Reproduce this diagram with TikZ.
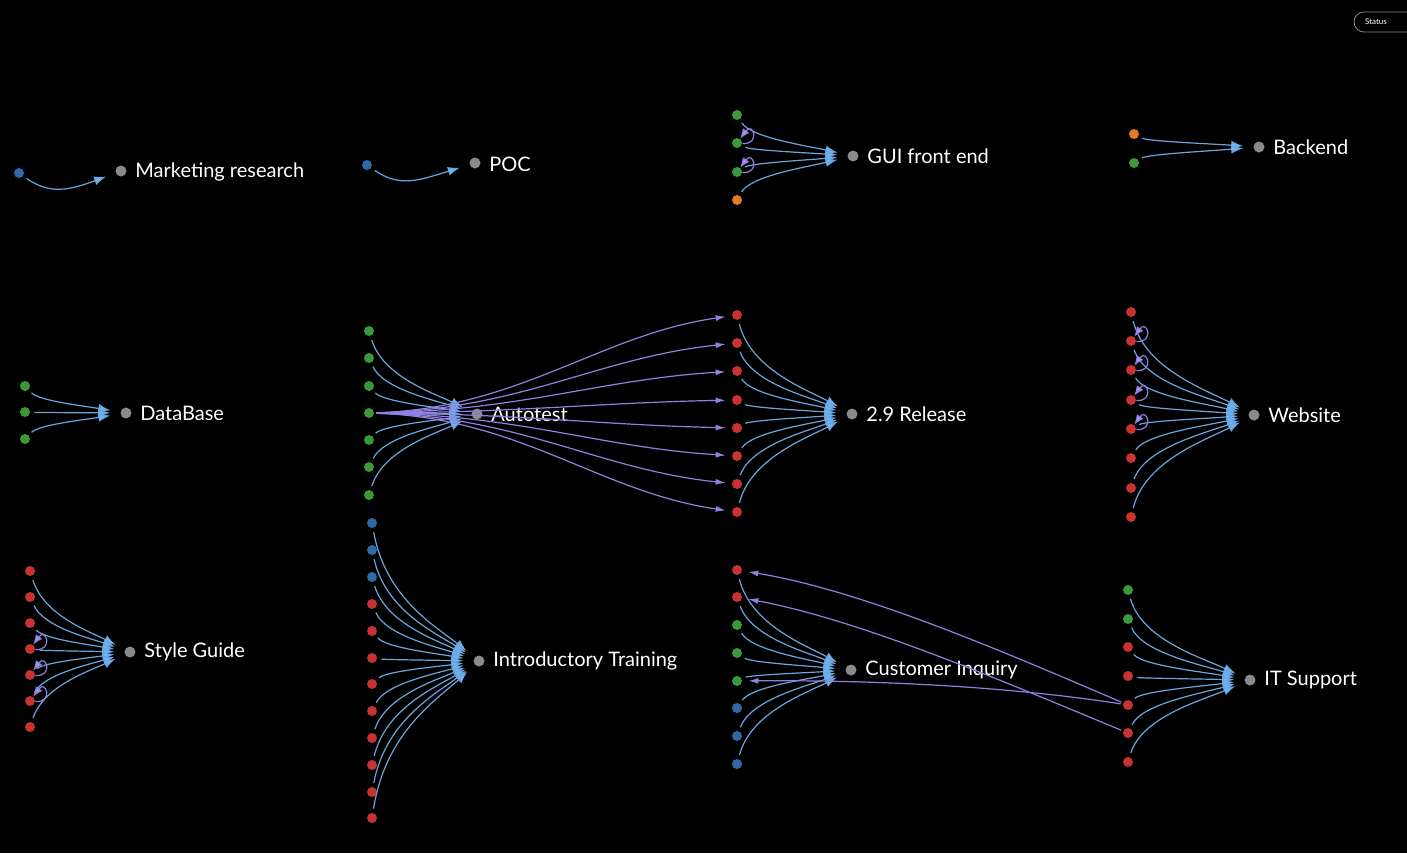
\documentclass[tikz,border=0pt]{standalone}
\usepackage{fontspec}
\setmainfont{Lato}
\usetikzlibrary{arrows.meta}
\definecolor{cg}{HTML}{3A9A3A}
\definecolor{cr}{HTML}{C83232}
\definecolor{cb}{HTML}{2F6AA8}
\definecolor{co}{HTML}{E07B2A}
\definecolor{ch}{HTML}{8A8A8A}
\definecolor{eb}{HTML}{6AA6DC}
\definecolor{tb}{HTML}{6AB4F5}
\definecolor{ep}{HTML}{9080E0}
\tikzset{
 dot/.style={circle,inner sep=0pt,minimum size=5pt},
 hub/.style={circle,fill=ch,inner sep=0pt,minimum size=5.5pt},
 lbl/.style={text=white,font=\fontsize{10}{12}\selectfont,inner sep=0pt},
 edge/.style={draw=eb,line width=0.6pt,-{Latex[length=6pt,width=4.5pt,fill=tb]},shorten >=5pt,shorten <=2pt},
 pedge/.style={draw=ep,line width=0.6pt,-{Latex[length=5pt,width=3pt,fill=ep]},shorten >=3pt,shorten <=1pt},
 loope/.style={draw=ep,line width=0.6pt,-{Latex[length=5pt,width=4pt,fill=ep!80!white]}},
}
\newcommand\grp[6]{%
 \node[hub] (#1-h) at (#4,#5) {};
 \node[lbl,anchor=west] (#1-l) at (#4+14,#5) {#6};
 \foreach \yy/\cc [count=\i] in {#3} {
   \node[dot,fill=\cc] (#1-\i) at (#2,\yy) {};
   \pgfmathsetmacro\ay{\yy+0.55*(#5-\yy)}
   \pgfmathsetmacro\bx{#4-0.4*(#4-#2)}
   \pgfmathsetmacro\by{#5+0.25*(\yy-#5)}
   \draw[edge] (#1-\i) .. controls (#2+14,\ay) and (\bx,\by) .. (#1-h);
 }}
\newcommand\lp[3]{\draw[loope] (#1) .. controls (#2+24,#3+2) and (#2+16,#3-22) .. (#1);}
\begin{document}
\begin{tikzpicture}[x=0.5pt,y=-0.5pt]
\fill[black] (0,0) rectangle (1407,853);
\useasboundingbox (0,0) rectangle (1407,853);
% status
\node[draw=ch,rounded corners=5pt,minimum width=34pt,minimum height=10pt,text=white,font=\fontsize{4}{5}\selectfont] (st) at (1388,22) {\hspace*{-12pt}Status};
% Marketing research
\node[hub] (mr-h) at (121,171) {};
\node[lbl,anchor=west] (mr-l) at (135,172) {Marketing research};
\node[dot,fill=cb] (mr-1) at (19,173) {};
\draw[edge] (mr-1) .. controls (50,195) and (70,190) .. (mr-h);
% POC
\node[hub] (poc-h) at (475,163) {};
\node[lbl,anchor=west] (poc-l) at (489,164) {POC};
\node[dot,fill=cb] (poc-1) at (367,165) {};
\draw[edge] (poc-1) .. controls (400,188) and (420,180) .. (poc-h);
% groups
\grp{gui}{737}{115/cg,143/cg,172/cg,200/co}{853}{156}{GUI front end}
\lp{gui-2}{737}{143}\lp{gui-3}{737}{172}
\grp{be}{1134}{134/co,163/cg}{1259}{147}{Backend}
\grp{db}{25}{386/cg,412/cg,439/cg}{126}{413}{DataBase}
\grp{at}{369}{331/cg,358/cg,386/cg,413/cg,440/cg,467/cg,495/cg}{477}{414}{Autotest}
\grp{rel}{737}{315/cr,343/cr,371/cr,400/cr,428/cr,456/cr,484/cr,512/cr}{852}{414}{2.9 Release}
\grp{web}{1131}{312/cr,341/cr,370/cr,400/cr,429/cr,458/cr,488/cr,517/cr}{1254}{415}{Website}
\lp{web-2}{1131}{341}\lp{web-3}{1131}{370}\lp{web-4}{1131}{400}\lp{web-5}{1131}{429}
\grp{sg}{30}{571/cr,597/cr,623/cr,649/cr,675/cr,701/cr,727/cr}{130}{652}{Style Guide}
\lp{sg-4}{30}{649}\lp{sg-5}{30}{675}\lp{sg-6}{30}{701}
\grp{it}{372}{523/cb,550/cb,577/cb,604/cr,631/cr,658/cr,684/cr,711/cr,738/cr,765/cr,792/cr,818/cr}{479}{661}{Introductory Training}
\grp{ci}{737}{570/cr,597/cr,625/cg,653/cg,681/cg,708/cb,736/cb,764/cb}{851}{670}{Customer Inquiry}
\grp{its}{1128}{590/cg,619/cg,647/cr,676/cr,705/cr,733/cr,762/cr}{1250}{680}{IT Support}
% autotest -> release
\foreach \i/\ty in {1/315,2/343,3/371,4/400,5/428,6/456,7/484,8/512}{
  \pgfmathsetmacro\ca{413+0.05*(\ty-413)}
  \pgfmathsetmacro\cb{\ty+0.2*(413-\ty)}
  \draw[pedge] (at-4) .. controls (520,\ca) and (600,\cb) .. (rel-\i);
}
% IT support -> customer inquiry
\draw[pedge] (its-5) .. controls (1000,650) and (860,590) .. (ci-1);
\draw[pedge] (its-6) .. controls (1000,680) and (860,620) .. (ci-2);
\draw[pedge] (its-5) .. controls (1000,685) and (860,680) .. (ci-5);
\end{tikzpicture}
\end{document}
